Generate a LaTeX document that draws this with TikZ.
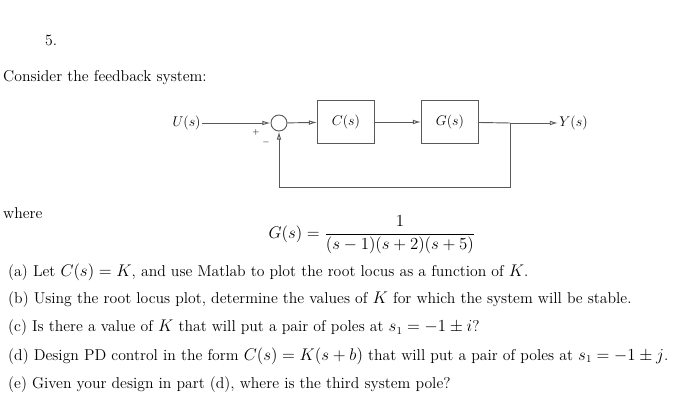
\documentclass[tikz,border=0pt]{standalone}
\usetikzlibrary{arrows.meta}
\begin{document}
\begin{tikzpicture}[x=0.03cm,y=-0.03cm,
  txt/.style={anchor=west,inner sep=0pt,font=\fontsize{13.4}{15}\selectfont},
  dfont/.style={font=\fontsize{12}{14}\selectfont},
  blk/.style={draw,gray!70!black,thick,minimum width=57*0.03cm,minimum height=43*0.03cm,text=black,dfont},
  sig/.style={gray!70!black,thick,-{Latex[length=7pt,width=4pt,open]}},
  ln/.style={gray!70!black,thick}]
\useasboundingbox (0,0) rectangle (700,414);
\node[txt] (n5) at (45,40) {5.};
\node[txt] (cons) at (3,78) {Consider the feedback system:};
\node[dfont,anchor=east,inner sep=1pt] (u) at (202,123) {$U(s)$};
\node[draw,gray!70!black,thick,circle,minimum size=16*0.03cm,inner sep=0pt] (sum) at (279,123) {};
\node[blk] (c) at (346,122) {$C(s)$};
\node[blk] (g) at (450,122) {$G(s)$};
\coordinate (sp) at (510,123);
\node[dfont,anchor=west,inner sep=1pt] (y) at (558,123) {$Y(s)$};
\coordinate (fb) at (510,187);
\coordinate (fb2) at (279,187);
\draw[sig] (u) -- (sum);
\draw[sig] (sum) -- (c);
\draw[sig] (c) -- (g);
\draw[ln] (g) -- (sp);
\draw[sig] (sp) -- (y);
\draw[ln] (sp) -- (fb) -- (fb2);
\draw[sig] (fb2) -- (sum);
\node[font=\scriptsize] (plus) at (256,132) {$+$};
\node[font=\scriptsize] (minus) at (266,142) {$-$};
\node[txt] (where) at (3,213) {where};
\node[font=\fontsize{13.4}{15}\selectfont] (geq) at (372,235) {$G(s)=\displaystyle\frac{1}{(s-1)(s+2)(s+5)}$};
\node[txt] (a) at (8,272) {(a) Let $C(s)=K$, and use Matlab to plot the root locus as a function of $K$.};
\node[txt] (b) at (8,300) {(b) Using the root locus plot, determine the values of $K$ for which the system will be stable.};
\node[txt] (cc) at (8,328) {(c) Is there a value of $K$ that will put a pair of poles at $s_1=-1\pm i$?};
\node[txt] (d) at (8,356) {(d) Design PD control in the form $C(s)=K(s+b)$ that will put a pair of poles at $s_1=-1\pm j$.};
\node[txt] (e) at (8,385) {(e) Given your design in part (d), where is the third system pole?};
\end{tikzpicture}
\end{document}
